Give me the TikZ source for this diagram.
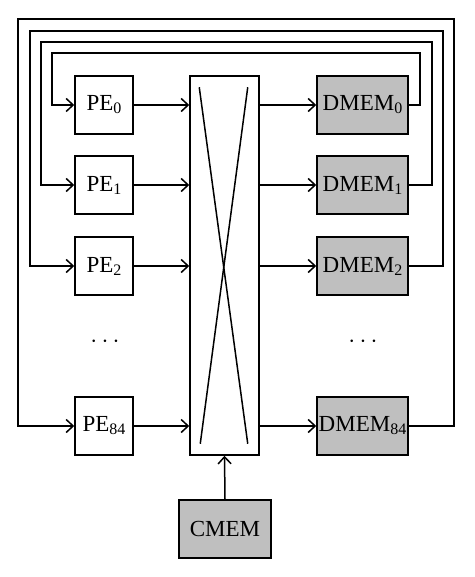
\documentclass[tikz,border=0pt]{standalone}
\usepackage{fontspec}
\setmainfont{Liberation Serif}
\usetikzlibrary{arrows.meta,calc}
\newcommand{\sbx}[1]{\raisebox{-0.28ex}{\fontsize{16}{16}\selectfont #1}}
\begin{document}
\begin{tikzpicture}[x=1pt,y=-1pt,
  every node/.style={font=\fontsize{23}{27}\selectfont},
  box/.style={draw, line width=1.5pt, inner sep=0pt, minimum height=58pt},
  pebox/.style={box, minimum width=58pt},
  membox/.style={box, fill=gray!50, minimum width=91pt},
  ln/.style={line width=1.5pt},
  arr/.style={ln, -{Straight Barb[length=7pt,width=13pt,line width=1.5pt]}}]
\path[use as bounding box] (0,0) rectangle (474,577);
% nodes
\node[pebox] (P0) at (104,105) {PE\sbx{0}};
\node[pebox] (P1) at (104,185) {PE\sbx{1}};
\node[pebox] (P2) at (104,266) {PE\sbx{2}};
\node[pebox] (P84) at (104,426) {PE\sbx{84}};
\node[box, minimum width=69pt, minimum height=379pt] (S) at (224.5,265.5) {};
\node[membox] (D0) at (362.5,105) {DMEM\sbx{0}};
\node[membox] (D1) at (362.5,185) {DMEM\sbx{1}};
\node[membox] (D2) at (362.5,266) {DMEM\sbx{2}};
\node[membox] (D84) at (362.5,426) {DMEM\sbx{84}};
\node[membox, minimum width=92pt] (C) at (225,529) {CMEM};
\node (dl) at (105,342) {$\cdots$};
\node (dr) at (363,342) {$\cdots$};
% crossing lines in switch
\draw[ln] ($(S.north west)+(10,12)$) -- ($(S.south east)+(-12,-12)$);
\draw[ln] ($(S.north east)+(-12,12)$) -- ($(S.south west)+(11,-12)$);
% loop coordinates
\coordinate (r0) at (420,53); \coordinate (l0) at (52,53);
\coordinate (r1) at (432,42); \coordinate (l1) at (41,42);
\coordinate (r2) at (443,31); \coordinate (l2) at (30,31);
\coordinate (r3) at (454,19); \coordinate (l3) at (18,19);
% connectors
\foreach \p/\d in {P0/D0,P1/D1,P2/D2,P84/D84}{
  \draw[arr] (\p.east) -- (\p.east -| S.west);
  \draw[arr] (S.east |- \d.west) -- (\d.west);
}
\draw[arr] (D0.east) -| (r0) -- (l0) |- (P0.west);
\draw[arr] (D1.east) -| (r1) -- (l1) |- (P1.west);
\draw[arr] (D2.east) -| (r2) -- (l2) |- (P2.west);
\draw[arr] (D84.east) -| (r3) -- (l3) |- (P84.west);
\draw[arr] (C.north) -- (S.south);
\end{tikzpicture}
\end{document}
